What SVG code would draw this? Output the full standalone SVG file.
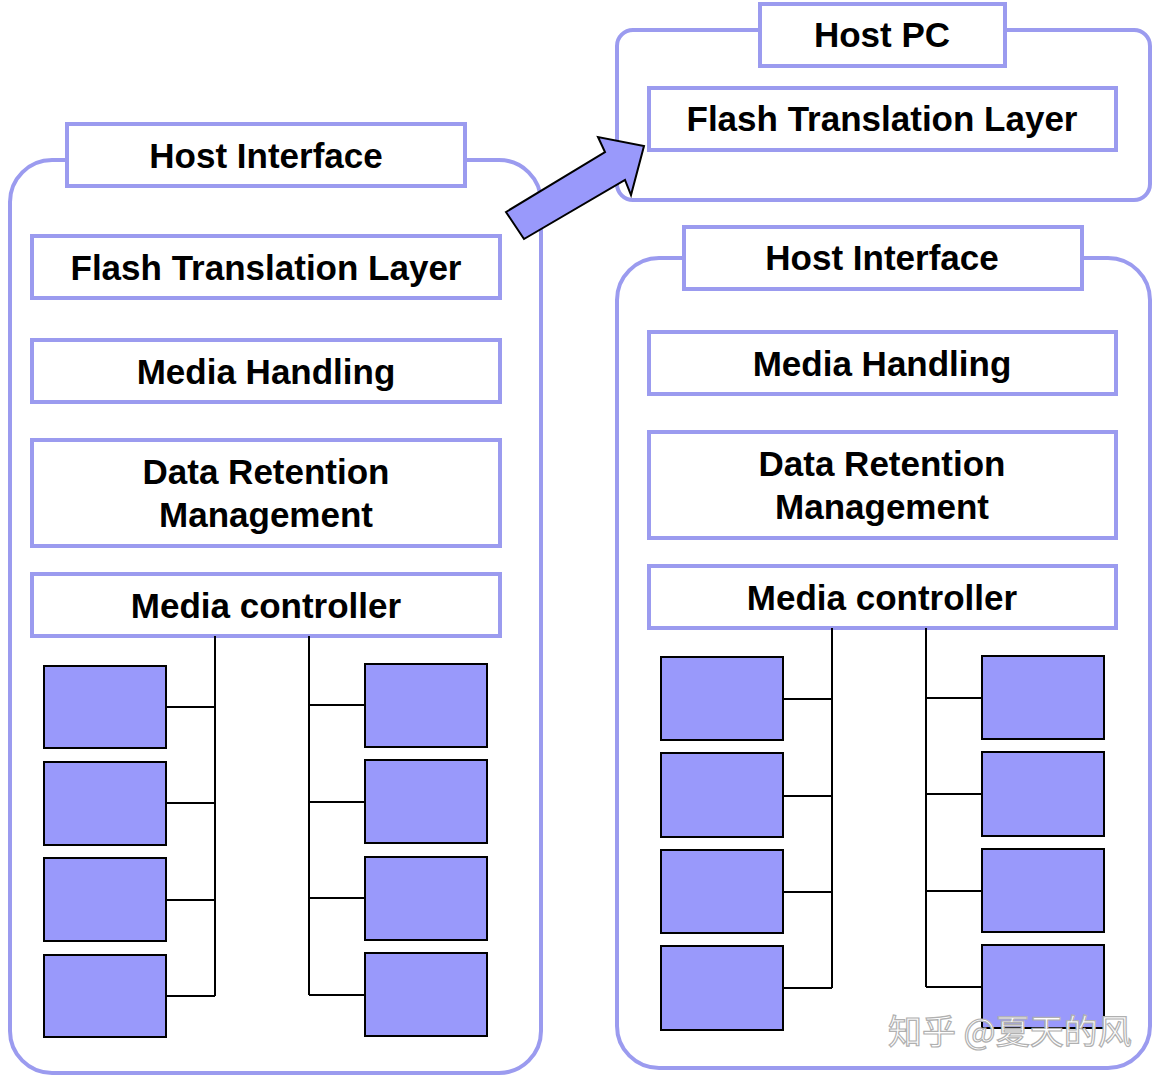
<svg xmlns="http://www.w3.org/2000/svg" width="1170" height="1080" viewBox="0 0 1170 1080">
<style>
.cont{fill:#fff;stroke:#9b9bef;stroke-width:4}
.box{fill:#fff;stroke:#9b9bef;stroke-width:4}
.chip{fill:#9999fb;stroke:#000;stroke-width:2}
.lbl{font-family:"Liberation Sans",Arial,sans-serif;font-weight:bold;font-size:35px;fill:#000;text-anchor:middle}
.bus{fill:none;stroke:#000;stroke-width:2}
.wm{font-family:"Noto Sans CJK SC",sans-serif;font-size:34px;fill:#fff;stroke:#b0b0b0;stroke-width:1.2}
</style>
<rect width="1170" height="1080" fill="#fff"/>
<g id="left-device">
<rect class="cont" x="10" y="160" width="531" height="913" rx="42"/>
<g id="l-host-interface"><rect class="box" x="67" y="124" width="398" height="62"/><text class="lbl" x="266" y="168">Host Interface</text></g>
<g id="l-ftl"><rect class="box" x="32" y="236" width="468" height="62"/><text class="lbl" x="266" y="280">Flash Translation Layer</text></g>
<g id="l-media-handling"><rect class="box" x="32" y="340" width="468" height="62"/><text class="lbl" x="266" y="384">Media Handling</text></g>
<g id="l-data-retention"><rect class="box" x="32" y="440" width="468" height="106"/><text class="lbl" x="266" y="484">Data Retention</text><text class="lbl" x="266" y="527">Management</text></g>
<g id="l-media-controller"><rect class="box" x="32" y="574" width="468" height="62"/><text class="lbl" x="266" y="618">Media controller</text></g>
<g id="l-chips">
<rect class="chip" x="44" y="666" width="122" height="82"/>
<rect class="chip" x="44" y="762" width="122" height="83"/>
<rect class="chip" x="44" y="858" width="122" height="83"/>
<rect class="chip" x="44" y="955" width="122" height="82"/>
<rect class="chip" x="365" y="664" width="122" height="83"/>
<rect class="chip" x="365" y="760" width="122" height="83"/>
<rect class="chip" x="365" y="857" width="122" height="83"/>
<rect class="chip" x="365" y="953" width="122" height="83"/>
</g>
</g>
<g id="host-pc">
<rect class="cont" x="617" y="30" width="533" height="170" rx="16"/>
<g id="r-host-pc"><rect class="box" x="760" y="4" width="245" height="62"/><text class="lbl" x="882" y="47">Host PC</text></g>
<g id="r-ftl"><rect class="box" x="649" y="88" width="467" height="62"/><text class="lbl" x="882" y="131">Flash Translation Layer</text></g>
</g>
<g id="right-device">
<rect class="cont" x="617" y="258" width="533" height="810" rx="42"/>
<g id="r-host-interface"><rect class="box" x="684" y="227" width="398" height="62"/><text class="lbl" x="882" y="270">Host Interface</text></g>
<g id="r-media-handling"><rect class="box" x="649" y="332" width="467" height="62"/><text class="lbl" x="882" y="376">Media Handling</text></g>
<g id="r-data-retention"><rect class="box" x="649" y="432" width="467" height="106"/><text class="lbl" x="882" y="476">Data Retention</text><text class="lbl" x="882" y="519">Management</text></g>
<g id="r-media-controller"><rect class="box" x="649" y="566" width="467" height="62"/><text class="lbl" x="882" y="610">Media controller</text></g>
<g id="r-chips">
<rect class="chip" x="661" y="657" width="122" height="83"/>
<rect class="chip" x="661" y="753" width="122" height="84"/>
<rect class="chip" x="661" y="850" width="122" height="83"/>
<rect class="chip" x="661" y="946" width="122" height="84"/>
<rect class="chip" x="982" y="656" width="122" height="83"/>
<rect class="chip" x="982" y="752" width="122" height="84"/>
<rect class="chip" x="982" y="849" width="122" height="83"/>
<rect class="chip" x="982" y="945" width="122" height="83"/>
</g>
</g>
<g id="connectors">
<path class="bus" d="M215 636V996M166 707H215M166 803H215M166 900H215M166 996H215"/>
<path class="bus" d="M309 636V995M309 705H365M309 802H365M309 898H365M309 995H365"/>
<path class="bus" d="M832 628V988M783 699H832M783 796H832M783 892H832M783 988H832"/>
<path class="bus" d="M926 628V987M926 698H982M926 794H982M926 891H982M926 987H982"/>
<polygon id="migrate-arrow" points="506,212 605,152 598,137 644,146 631,195 625,180 524,239" fill="#9999fb" stroke="#000" stroke-width="2" stroke-linejoin="miter"/>
</g>
<text class="wm" x="888" y="1044">知乎 @夏天的风</text>
</svg>
